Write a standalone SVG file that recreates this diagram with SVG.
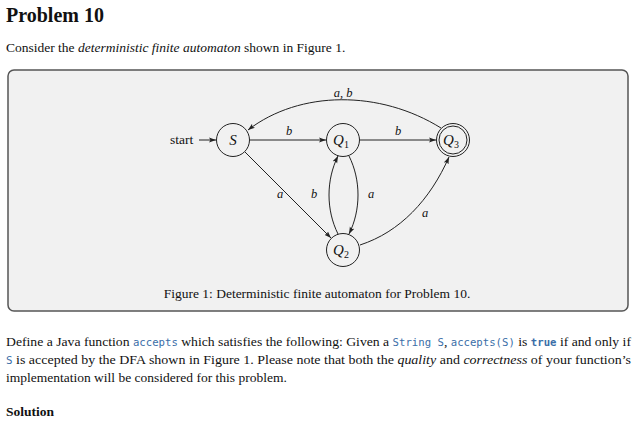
<svg xmlns="http://www.w3.org/2000/svg" width="643" height="442" viewBox="0 0 643 442">
<style>
.t{font-family:"Liberation Serif",serif;font-size:13.5px;fill:#111}
.m{font-family:"DejaVu Sans Mono",monospace;font-size:10.5px;fill:#3a6ea8}
.n{fill:none;stroke:#222;stroke-width:1}
.i{font-family:"Liberation Serif",serif;font-style:italic;font-size:12.5px;fill:#111}
.q{font-family:"Liberation Serif",serif;font-style:italic;font-size:15px;fill:#111}
.e{fill:none;stroke:#222;stroke-width:1;marker-end:url(#a)}
</style>
<defs><marker id="a" markerWidth="8" markerHeight="6" refX="7" refY="3" orient="auto" markerUnits="userSpaceOnUse"><path d="M0,0.5 L7,3 L0,5.5 L1.5,3z" fill="#222"/></marker></defs>
<rect width="643" height="442" fill="#fff"/>
<text x="6" y="22" font-family="Liberation Serif,serif" font-weight="bold" font-size="20" fill="#111">Problem 10</text>
<text x="6" y="52" class="t">Consider the <tspan font-style="italic">deterministic finite automaton</tspan> shown in Figure 1.</text>
<rect x="8" y="70" width="620" height="241" rx="6" fill="#f1f1f1" stroke="#555" stroke-width="1.5"/>
<g id="connectors">
<path class="e" d="M199,140 H216"/>
<path class="e" d="M250,140 H326"/>
<path class="e" d="M360,140 H436"/>
<path class="e" d="M245,152 L331,238"/>
<path class="e" d="M338,234 C326,210 326,180 338,156"/>
<path class="e" d="M349,156 C361,180 361,210 349,234"/>
<path class="e" d="M360,245 C400,232 430,200 449,157"/>
<path class="e" d="M441,128 C380,90 300,90 248,130"/>
<text class="i" x="343" y="97" text-anchor="middle">a, b</text>
<text class="i" x="289" y="135" text-anchor="middle">b</text>
<text class="i" x="398" y="135" text-anchor="middle">b</text>
<text class="i" x="280" y="198" text-anchor="middle">a</text>
<text class="i" x="314" y="198" text-anchor="middle">b</text>
<text class="i" x="371" y="198" text-anchor="middle">a</text>
<text class="i" x="425" y="217" text-anchor="middle">a</text>
</g>
<text x="170" y="144" class="t" font-size="12.5">start</text>
<g id="S"><circle class="n" cx="233" cy="140" r="16.5"/><text class="q" x="233" y="145" text-anchor="middle">S</text></g>
<g id="Q1"><circle class="n" cx="343" cy="140" r="16.5"/><text class="q" x="341" y="145" text-anchor="middle">Q<tspan font-style="normal" font-size="10" dy="3">1</tspan></text></g>
<g id="Q3"><circle class="n" cx="453" cy="140" r="16.5"/><circle class="n" cx="453" cy="140" r="14"/><text class="q" x="451" y="145" text-anchor="middle">Q<tspan font-style="normal" font-size="10" dy="3">3</tspan></text></g>
<g id="Q2"><circle class="n" cx="343" cy="250" r="16.5"/><text class="q" x="341" y="255" text-anchor="middle">Q<tspan font-style="normal" font-size="10" dy="3">2</tspan></text></g>
<text x="317" y="298" class="t" text-anchor="middle">Figure 1: Deterministic finite automaton for Problem 10.</text>
<text x="6" y="346" class="t" textLength="625" lengthAdjust="spacingAndGlyphs">Define a Java function <tspan class="m">accepts</tspan> which satisfies the following: Given a <tspan class="m">String S</tspan>, <tspan class="m">accepts(S)</tspan> is <tspan class="m" font-weight="bold" fill="#2a4f80">true</tspan> if and only if</text>
<text x="6" y="364" class="t" textLength="625" lengthAdjust="spacingAndGlyphs"><tspan class="m">S</tspan> is accepted by the DFA shown in Figure 1. Please note that both the <tspan font-style="italic">quality</tspan> and <tspan font-style="italic">correctness</tspan> of your function’s</text>
<text x="6" y="382" class="t">implementation will be considered for this problem.</text>
<text x="6" y="416" font-family="Liberation Serif,serif" font-weight="bold" font-size="13.5" fill="#111">Solution</text>
</svg>
